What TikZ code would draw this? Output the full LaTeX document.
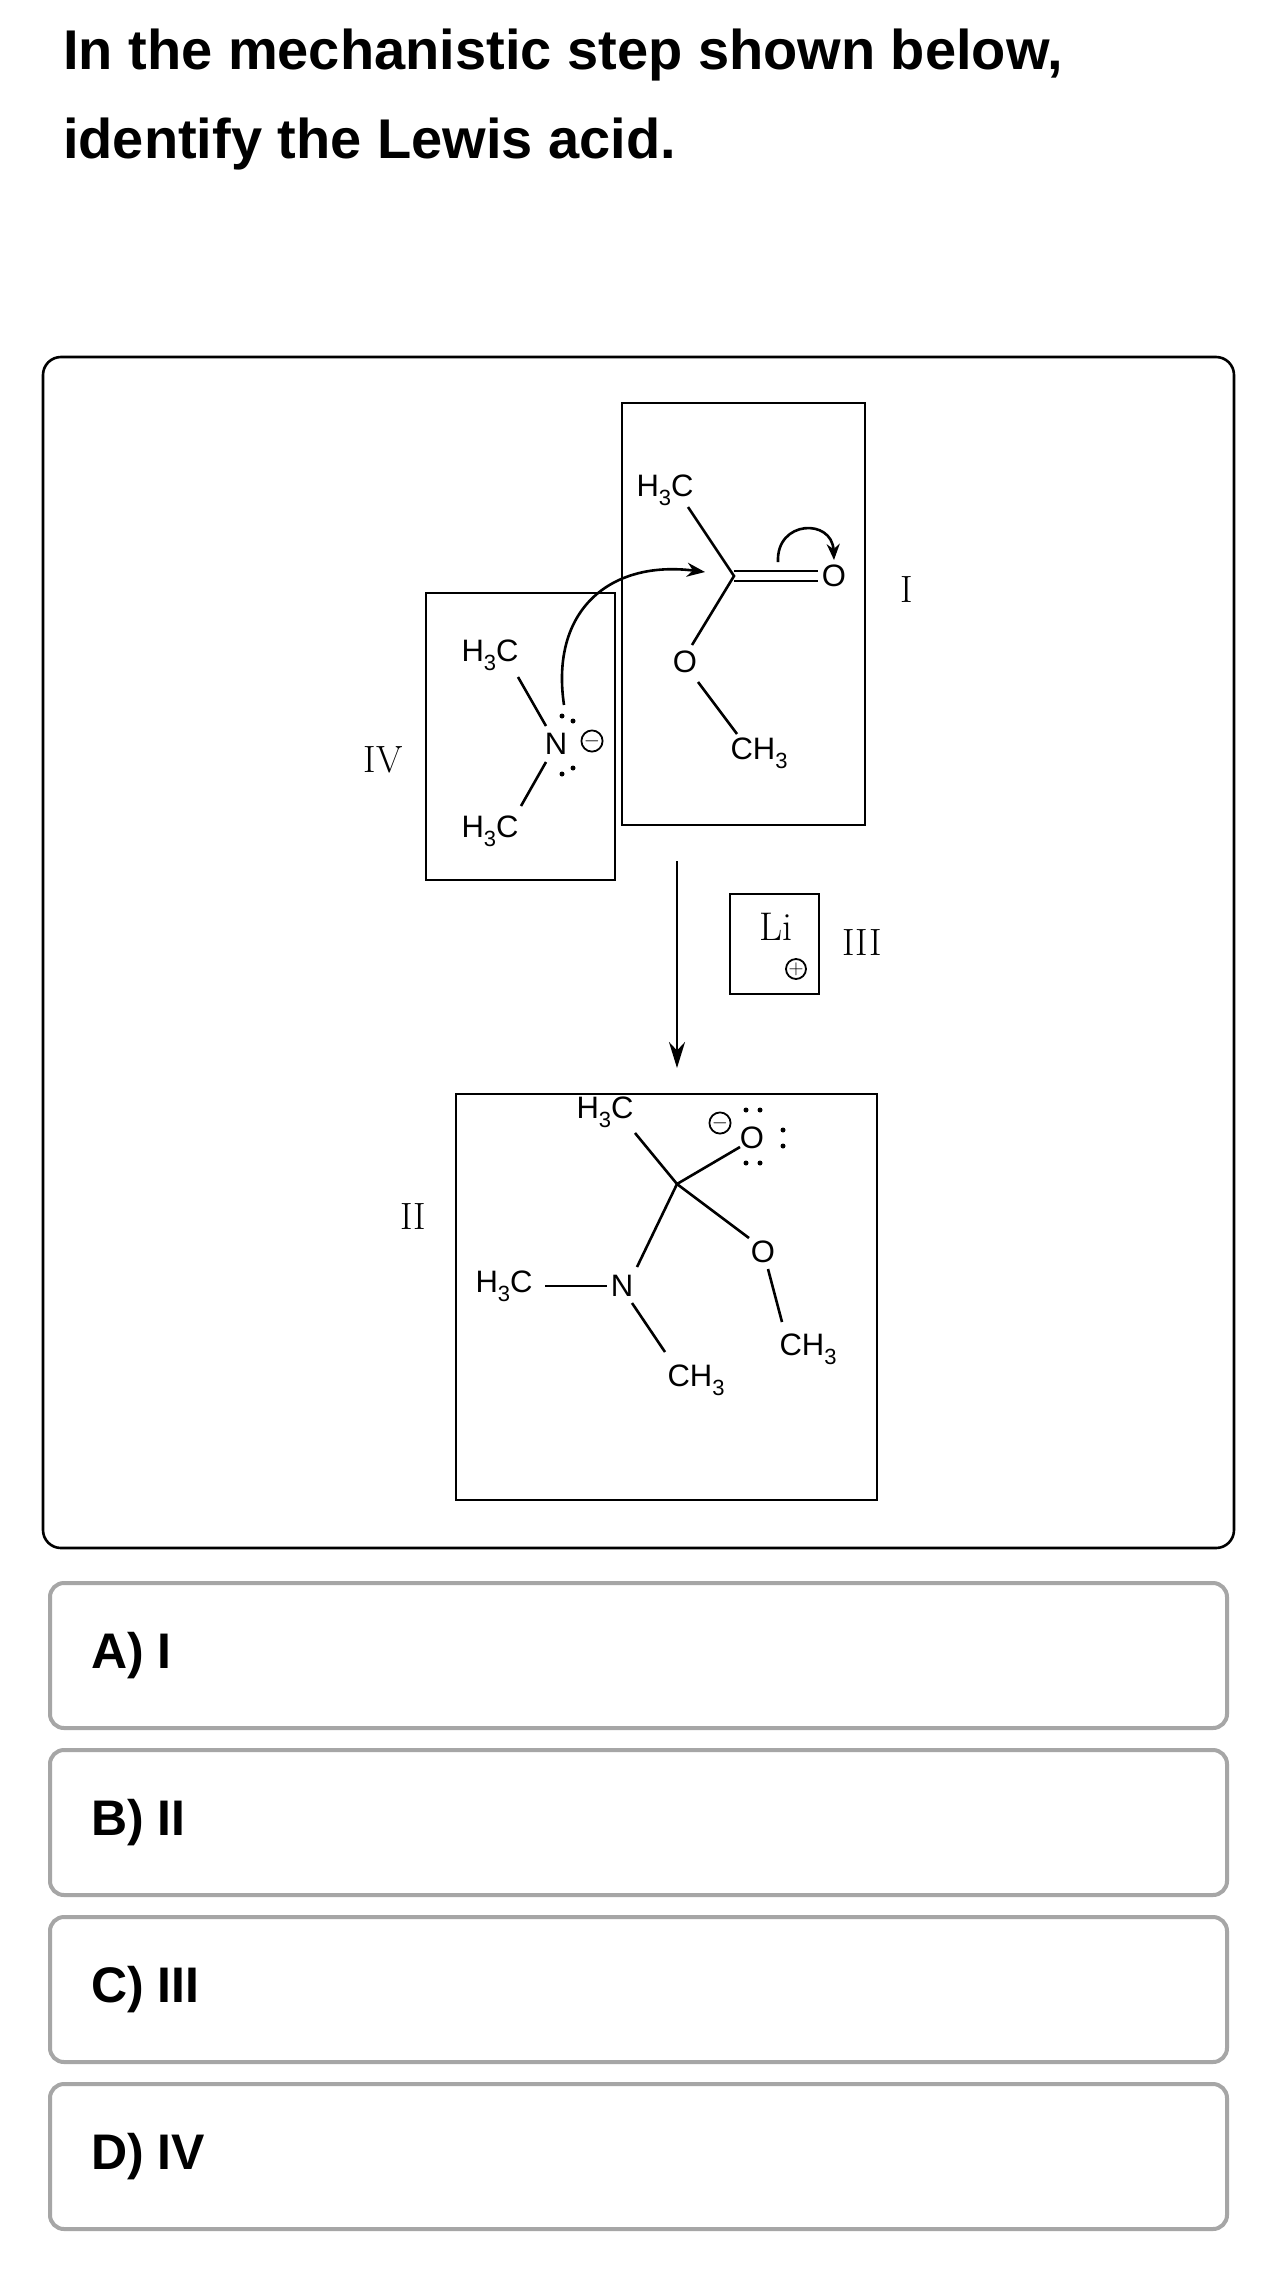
\documentclass[tikz,border=0pt]{standalone}
\usepackage{fontspec}
\setmainfont{Liberation Sans}
\newfontfamily\lmfont{Latin Modern Roman}
\usetikzlibrary{arrows.meta}
\newcommand\mysub[1]{\raisebox{-0.28em}{\fontsize{22}{22}\selectfont #1}}
\begin{document}
\begin{tikzpicture}[x=1pt,y=-1pt,
  bx/.style={draw,line width=2.6pt},
  bd/.style={line width=2.6pt},
  atm/.style={font=\fontsize{31}{31}\selectfont,inner sep=1pt},
  rom/.style={font=\lmfont\fontsize{38}{38}\selectfont,inner sep=0pt},
  ans/.style={draw=gray!70,line width=4pt,rounded corners=14pt},
  ansl/.style={font=\bfseries\fontsize{50}{50}\selectfont,anchor=west,inner sep=0pt},
  chg/.style={circle,draw,line width=1.8pt,inner sep=0pt,minimum size=20pt},
  dot/.style={circle,fill,inner sep=0pt,minimum size=5pt}]
\useasboundingbox (0,0) rectangle (1267,2270);
\fill[white] (0,0) rectangle (1267,2270);
\node[anchor=west,font=\bfseries\fontsize{56}{56}\selectfont,inner sep=0pt] (t1) at (63,55) {In the mechanistic step shown below,};
\node[anchor=west,font=\bfseries\fontsize{56}{56}\selectfont,inner sep=0pt] (t2) at (63,144) {identify the Lewis acid.};
\draw[line width=2.6pt,rounded corners=18pt] (43,357) rectangle (1234,1548);
% boxes
\draw[bx] (622,403) rectangle (865,825);
\draw[bx] (426,593) rectangle (615,880);
\draw[bx] (730,894) rectangle (819,994);
\draw[bx] (456,1094) rectangle (877,1500);
\node[rom] (lI) at (907,590) {I};
\node[rom] (lIV) at (383,760) {IV};
\node[rom] (lIII) at (862,943) {III};
\node[rom] (lII) at (413,1217) {II};
% molecule I
\node[atm] (a1) at (665,490) {H\mysub{3}C};
\coordinate (c1) at (734,576);
\node[atm] (o1) at (834,576) {O};
\node[atm] (o2) at (685,662) {O};
\node[atm] (m1) at (759,753) {CH\mysub{3}};
\draw[bd] (688,507) -- (c1) -- (692,645);
\draw[bd] (c1) ++(0,-5) -- (818,571);
\draw[bd] (c1) ++(0,5) -- (818,581);
\draw[bd] (698,682) -- (737,734);
\draw[bd,-{Stealth[length=16pt,width=13pt]}] (778,562) .. controls (776,520) and (832,518) .. (834,560);
% molecule IV
\node[atm] (a2) at (490,655) {H\mysub{3}C};
\node[atm] (n1) at (556,744) {N};
\node[atm] (a3) at (490,831) {H\mysub{3}C};
\node[chg] (q1) at (592,741) {\fontsize{20}{20}\selectfont$-$};
\draw[bd] (518,677) -- (546,726);
\draw[bd] (546,762) -- (521,806);
\node[dot] at (562,716) {}; \node[dot] at (573,721) {};
\node[dot] at (562,774) {}; \node[dot] at (573,768) {};
\draw[bd,-{Stealth[length=18pt,width=14pt]}] (564,705) .. controls (550,610) and (610,560) .. (705,572);
% Li
\node[font=\lmfont\fontsize{40}{40}\selectfont,inner sep=0pt] (li) at (776,927) {Li};
\node[chg] (q2) at (796,969) {\fontsize{20}{20}\selectfont$+$};
% reaction arrow
\coordinate (r1) at (677,861);
\coordinate (r2) at (677,1068);
\draw[line width=2.6pt,-{Stealth[length=26pt,width=16pt]}] (r1) -- (r2);
% molecule II
\coordinate (c2) at (677,1184);
\node[atm] (b1) at (605,1112) {H\mysub{3}C};
\node[atm] (o3) at (752,1138) {O};
\node[chg] (q3) at (720,1123) {\fontsize{20}{20}\selectfont$-$};
\node[atm] (o4) at (763,1252) {O};
\node[atm] (m2) at (808,1349) {CH\mysub{3}};
\node[atm] (n2) at (622,1286) {N};
\node[atm] (b2) at (504,1286) {H\mysub{3}C};
\node[atm] (m3) at (696,1380) {CH\mysub{3}};
\draw[bd] (635,1133) -- (c2) -- (740,1147);
\draw[bd] (c2) -- (749,1238);
\draw[bd] (c2) -- (637,1267);
\draw[bd] (768,1269) -- (782,1322);
\draw[bd] (545,1286) -- (607,1286);
\draw[bd] (632,1303) -- (665,1352);
\node[dot] at (746,1110) {}; \node[dot] at (760,1110) {};
\node[dot] at (746,1163) {}; \node[dot] at (760,1163) {};
\node[dot] at (783,1130) {}; \node[dot] at (783,1146) {};
% answers
\draw[ans] (50,1583) rectangle (1227,1728);
\draw[ans] (50,1750) rectangle (1227,1895);
\draw[ans] (50,1917) rectangle (1227,2062);
\draw[ans] (50,2084) rectangle (1227,2229);
\node[ansl] (A) at (91,1656) {A) I};
\node[ansl] (B) at (91,1823) {B) II};
\node[ansl] (C) at (91,1990) {C) III};
\node[ansl] (D) at (91,2157) {D) IV};
\end{tikzpicture}
\end{document}
